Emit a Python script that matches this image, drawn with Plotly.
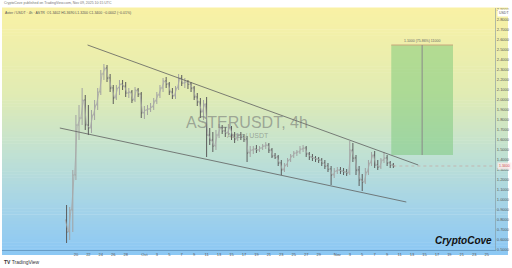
import pandas as pd
import plotly.graph_objects as go

# ---------------- data (12h candles) ----------------
start_time = "2025-09-18 12:00"
open_ = [0.80, 0.68, 0.90, 1.25, 1.75, 1.82, 2.00, 1.75, 1.72, 1.85,
         1.95, 2.08, 2.26, 2.32, 2.22, 2.12, 2.02, 2.12, 2.16, 2.14,
         2.07, 2.08, 2.00, 2.10, 2.06, 1.87, 1.90, 1.91, 1.93, 1.99,
         2.05, 2.12, 2.19, 2.16, 2.08, 2.04, 2.12, 2.22, 2.17, 2.18,
         2.16, 2.12, 2.03, 1.98, 1.88, 1.96, 1.65, 1.60, 1.54, 1.65,
         1.72, 1.69, 1.67, 1.72, 1.64, 1.61, 1.65, 1.63, 1.61, 1.47,
         1.50, 1.51, 1.50, 1.52, 1.54, 1.55, 1.50, 1.44, 1.43, 1.37,
         1.30, 1.35, 1.40, 1.44, 1.47, 1.48, 1.51, 1.52, 1.46, 1.43,
         1.42, 1.41, 1.40, 1.37, 1.34, 1.31, 1.25, 1.29, 1.30, 1.29,
         1.28, 1.27, 1.50, 1.42, 1.30, 1.20, 1.18, 1.28, 1.37, 1.45,
         1.35, 1.33, 1.40, 1.42, 1.37, 1.35]
high = [0.95, 0.93, 1.30, 1.85, 1.95, 2.12, 2.05, 1.95, 1.90, 2.00,
        2.12, 2.30, 2.36, 2.35, 2.26, 2.15, 2.15, 2.20, 2.20, 2.18,
        2.12, 2.10, 2.13, 2.12, 2.08, 1.94, 1.95, 1.97, 2.02, 2.08,
        2.15, 2.22, 2.23, 2.18, 2.12, 2.14, 2.26, 2.25, 2.22, 2.20,
        2.18, 2.14, 2.07, 2.02, 2.00, 2.03, 1.72, 1.68, 1.70, 1.76,
        1.75, 1.73, 1.76, 1.74, 1.68, 1.67, 1.68, 1.66, 1.64, 1.54,
        1.54, 1.55, 1.54, 1.56, 1.58, 1.57, 1.52, 1.47, 1.45, 1.40,
        1.37, 1.42, 1.46, 1.49, 1.50, 1.54, 1.55, 1.54, 1.48, 1.46,
        1.44, 1.43, 1.42, 1.40, 1.37, 1.34, 1.32, 1.33, 1.33, 1.32,
        1.31, 1.59, 1.57, 1.45, 1.34, 1.26, 1.32, 1.40, 1.48, 1.49,
        1.40, 1.42, 1.48, 1.45, 1.39, 1.37]
low = [0.57, 0.60, 0.68, 1.20, 1.60, 1.75, 1.70, 1.65, 1.67, 1.80,
       1.90, 2.05, 2.20, 2.18, 2.08, 1.96, 2.00, 2.05, 2.10, 2.03,
       2.02, 1.97, 1.98, 2.03, 1.82, 1.81, 1.85, 1.88, 1.90, 1.96,
       2.02, 2.08, 2.12, 2.05, 2.01, 2.01, 2.10, 2.14, 2.12, 2.11,
       2.08, 2.00, 1.94, 1.82, 1.80, 1.43, 1.55, 1.48, 1.50, 1.62,
       1.66, 1.63, 1.65, 1.60, 1.57, 1.59, 1.60, 1.58, 1.38, 1.43,
       1.46, 1.47, 1.48, 1.50, 1.51, 1.47, 1.42, 1.41, 1.34, 1.25,
       1.28, 1.33, 1.38, 1.42, 1.44, 1.46, 1.48, 1.43, 1.40, 1.39,
       1.38, 1.37, 1.34, 1.31, 1.28, 1.15, 1.22, 1.26, 1.26, 1.25,
       1.24, 1.25, 1.38, 1.25, 1.14, 1.09, 1.16, 1.25, 1.34, 1.32,
       1.30, 1.31, 1.37, 1.34, 1.32, 1.32]
close = [0.68, 0.90, 1.25, 1.75, 1.82, 2.00, 1.75, 1.72, 1.85, 1.95,
         2.08, 2.26, 2.32, 2.22, 2.12, 2.02, 2.12, 2.16, 2.14, 2.07,
         2.08, 2.00, 2.10, 2.06, 1.87, 1.90, 1.91, 1.93, 1.99, 2.05,
         2.12, 2.19, 2.16, 2.08, 2.04, 2.12, 2.22, 2.17, 2.18, 2.16,
         2.12, 2.03, 1.98, 1.88, 1.96, 1.65, 1.60, 1.54, 1.65, 1.72,
         1.69, 1.67, 1.72, 1.64, 1.61, 1.65, 1.63, 1.61, 1.47, 1.50,
         1.51, 1.50, 1.52, 1.54, 1.55, 1.50, 1.44, 1.43, 1.37, 1.30,
         1.35, 1.40, 1.44, 1.47, 1.48, 1.51, 1.52, 1.46, 1.43, 1.42,
         1.41, 1.40, 1.37, 1.34, 1.31, 1.25, 1.29, 1.30, 1.29, 1.28,
         1.27, 1.50, 1.42, 1.30, 1.20, 1.18, 1.28, 1.37, 1.45, 1.35,
         1.33, 1.40, 1.42, 1.37, 1.35, 1.34]

# trend lines (time, price)
upper_line_t = ["2025-09-21 21:00", "2025-11-14 00:00"]
upper_line_p = [2.55, 1.35]
lower_line_t = ["2025-09-17 10:00", "2025-11-12 02:00"]
lower_line_p = [1.72, 0.98]

# target box (long position tool)
box_t = ["2025-11-09 16:00", "2025-11-19 14:00"]
box_mid_t = "2025-11-14 15:00"
box_p = [1.45, 2.55]
box_label = "1.1000 (75.86%) 11000"

x_range = ["2025-09-08 03:00", "2025-11-26 08:00"]
y_range = [0.50, 2.92]

# x tick labels (every 2 days, month names at month start)
tick_dates = (["2025-09-%02d" % d for d in (20, 22, 24, 26, 28)]
              + ["2025-10-01"] + ["2025-10-%02d" % d for d in range(3, 30, 2)]
              + ["2025-11-01"] + ["2025-11-%02d" % d for d in range(3, 26, 2)])
tick_text = ([str(d) for d in (20, 22, 24, 26, 28)] + ["Oct"]
             + [str(d) for d in range(3, 30, 2)] + ["Nov"]
             + [str(d) for d in range(3, 26, 2)])

times = pd.date_range(start_time, periods=len(close), freq="12h")

# ---------------- figure ----------------
fig = go.Figure()
# thin price path through opens/closes so the dense candles read as one wiggly line
path_t, path_p = [], []
for t, o, c in zip(times, open_, close):
    path_t += [t - pd.Timedelta(hours=5), t + pd.Timedelta(hours=5)]
    path_p += [o, c]
fig.add_trace(go.Scatter(x=path_t, y=path_p, mode="lines",
                         line=dict(color="#a8a8a8", width=0.8),
                         showlegend=False, hoverinfo="skip"))
fig.add_trace(go.Ohlc(
    x=times, open=open_, high=high, low=low, close=close,
    increasing=dict(line=dict(color="#a2a2a2", width=1.0)),
    decreasing=dict(line=dict(color="#5c5c5c", width=1.0)),
    tickwidth=0.3, showlegend=False, hoverinfo="skip"))

fig.add_trace(go.Scatter(x=upper_line_t, y=upper_line_p, mode="lines",
                         line=dict(color="#5f5f5f", width=0.8), showlegend=False, hoverinfo="skip"))
fig.add_trace(go.Scatter(x=lower_line_t, y=lower_line_p, mode="lines",
                         line=dict(color="#5f5f5f", width=0.8), showlegend=False, hoverinfo="skip"))

shapes = []
# gradient background
stops = [(0.0, (140, 200, 245)), (0.2, (165, 212, 232)), (0.4, (192, 225, 212)),
         (0.65, (225, 236, 180)), (1.0, (250, 242, 165))]
n = 80
y_lo, y_hi = -0.0207, 1.0
for k in range(n):
    f = (k + 0.5) / n
    for j in range(len(stops) - 1):
        if stops[j][0] <= f <= stops[j + 1][0]:
            a, ca = stops[j]
            b, cb = stops[j + 1]
            w = (f - a) / (b - a)
            c = tuple(int(ca[m] + (cb[m] - ca[m]) * w) for m in range(3))
            break
    y0 = y_lo + (y_hi - y_lo) * k / n
    y1 = y_lo + (y_hi - y_lo) * (k + 1) / n + 0.002
    shapes.append(dict(type="rect", xref="paper", yref="paper", x0=0, x1=1.0263,
                       y0=y0, y1=y1, fillcolor="rgb(%d,%d,%d)" % c, line=dict(width=0),
                       layer="below"))

# target box
shapes.append(dict(type="rect", xref="x", yref="y", x0=box_t[0], x1=box_t[1],
                   y0=box_p[0], y1=box_p[1], fillcolor="rgba(120,200,120,0.5)",
                   line=dict(width=0), layer="below"))
shapes.append(dict(type="line", xref="x", yref="y", x0=box_t[0], x1=box_t[1],
                   y0=box_p[1], y1=box_p[1], line=dict(color="#c9a77a", width=1)))
shapes.append(dict(type="line", xref="x", yref="y", x0=box_mid_t, x1=box_mid_t,
                   y0=box_p[0], y1=box_p[1], line=dict(color="#8a8a8a", width=1)))
# current price dotted line
shapes.append(dict(type="line", xref="x", yref="y", x0=times[-1], x1=x_range[1],
                   y0=close[-1], y1=close[-1],
                   line=dict(color="rgba(210,90,90,0.5)", width=0.6, dash="dot")))

annotations = [
    dict(text="ASTERUSDT, 4h", xref="paper", yref="paper", x=0.497, y=0.525,
         xanchor="center", yanchor="middle",
         showarrow=False, font=dict(family="Liberation Sans, Arial", size=16,
                                    color="rgba(110,110,110,0.55)")),
    dict(text="Aster / USDT", xref="paper", yref="paper", x=0.499, y=0.474,
         xanchor="center", yanchor="middle",
         showarrow=False, font=dict(family="Liberation Sans, Arial", size=7,
                                    color="rgba(110,110,110,0.55)")),
    dict(text="<b><i>CryptoCove</i></b>", xref="paper", yref="paper", x=0.937, y=0.041,
         xanchor="center", yanchor="middle",
         showarrow=False, font=dict(family="Liberation Sans, Arial", size=10, color="#111111")),
    dict(text=box_label, xref="x", yref="y", x=box_mid_t, y=box_p[1], yshift=4,
         xanchor="center", showarrow=False,
         font=dict(family="Liberation Sans, Arial", size=3.5, color="#666666")),
    dict(text="CryptoCove published on TradingView.com, Nov 09, 2025 10:15 UTC",
         xref="paper", yref="paper", x=0.0, y=1.022, xanchor="left", yanchor="middle",
         showarrow=False, font=dict(family="Liberation Sans, Arial", size=3.5, color="#777777")),
    dict(text="Aster / USDT · 4h · ASTR  O1.3402 H1.3690 L1.3200 C1.3400 −0.0002 (−0.01%)",
         xref="paper", yref="paper", x=0.002, y=0.995, xanchor="left", yanchor="top",
         showarrow=False, font=dict(family="Liberation Sans, Arial", size=3.5, color="#555555")),
    dict(text="<b>TV</b> TradingView", xref="paper", yref="paper", x=0.0, y=-0.05,
         xanchor="left", yanchor="middle", showarrow=False,
         font=dict(family="Liberation Sans, Arial", size=5, color="#333333")),
    dict(text="USDT", xref="paper", yref="paper", x=1.004, y=0.995, xanchor="left",
         yanchor="top", showarrow=False, bgcolor="#ffffff",
         font=dict(family="Liberation Sans, Arial", size=3.5, color="#555555")),
    dict(text="%.4f" % close[-1], xref="paper", yref="y", x=1.004, y=close[-1],
         xanchor="left", yanchor="middle", showarrow=False, bgcolor="rgba(255,235,235,0.8)",
         font=dict(family="Liberation Sans, Arial", size=3.5, color="#d05050")),
]

fig.update_layout(
    width=512, height=268,
    margin=dict(l=2, r=15, t=8, b=18),
    paper_bgcolor="#ffffff", plot_bgcolor="rgba(0,0,0,0)",
    shapes=shapes, annotations=annotations,
    xaxis=dict(type="date", range=x_range, rangeslider=dict(visible=False),
               showgrid=False, zeroline=False, tickvals=tick_dates, ticktext=tick_text,
               tickfont=dict(family="Liberation Sans, Arial", size=4, color="#555555"),
               ticks="", showline=True, linecolor="rgba(90,140,180,0.7)", linewidth=1),
    yaxis=dict(side="right", range=y_range, dtick=0.1, tickformat=".4f",
               showgrid=False, zeroline=False,
               tickfont=dict(family="Liberation Sans, Arial", size=4, color="#555555"),
               ticks="", showline=True, linecolor="rgba(130,150,160,0.6)", linewidth=1),
)

fig.write_html("out.html")
